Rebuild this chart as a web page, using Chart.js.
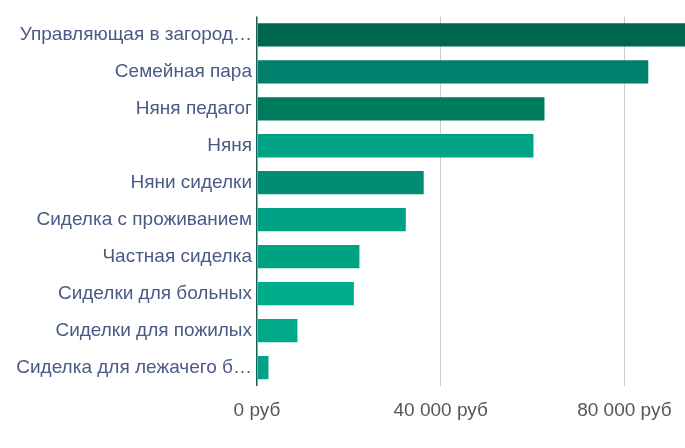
<!DOCTYPE html>
<html>
<head>
<meta charset="utf-8">
<script src="https://cdn.jsdelivr.net/npm/chart.js@4"></script>
<style>
html,body{margin:0;padding:0;background:#fff;}
#wrap{width:685px;height:448px;position:relative;}
</style>
</head>
<body>
<div id="wrap"><canvas id="c" width="685" height="448"></canvas></div>
<script>
const categories = [
  "Управляющая в загородный дом",
  "Семейная пара",
  "Няня педагог",
  "Няня",
  "Няни сиделки",
  "Сиделка с проживанием",
  "Частная сиделка",
  "Сиделки для больных",
  "Сиделки для пожилых",
  "Сиделка для лежачего больного"
];
const salaries = [93200, 85200, 62600, 60200, 36300, 32400, 22300, 21100, 8800, 2500];
const barColors = ["#00664f", "#007f6d", "#007a5e", "#00a383", "#008d73", "#00a085", "#00a381", "#00ad8b", "#00aa88", "#00a385"];
const xTickValues = [0, 40000, 80000];
const xMax = 93200;

const FONT = '"Liberation Sans", Arial, sans-serif';
const LABEL_SIZE = 19;
const measureCtx = document.createElement('canvas').getContext('2d');
measureCtx.font = LABEL_SIZE + 'px ' + FONT;
function truncate(s, maxW) {
  if (measureCtx.measureText(s).width <= maxW) return s;
  let t = s;
  while (t.length > 1 && measureCtx.measureText(t.trimEnd() + '…').width > maxW) t = t.slice(0, -1);
  return t.trimEnd() + '…';
}
function fmt(v) {
  return String(v).replace(/\B(?=(\d{3})+(?!\d))/g, ' ') + ' руб';
}

new Chart(document.getElementById('c'), {
  type: 'bar',
  data: {
    labels: categories,
    datasets: [{
      data: salaries,
      backgroundColor: barColors,
      borderWidth: 0,
      categoryPercentage: 1,
      barPercentage: 0.63
    }]
  },
  options: {
    indexAxis: 'y',
    responsive: false,
    animation: false,
    devicePixelRatio: 1,
    layout: { padding: { top: 12, right: 0, left: 0, bottom: 0 } },
    plugins: { legend: { display: false }, tooltip: { enabled: false } },
    scales: {
      x: {
        min: 0,
        max: xMax,
        afterBuildTicks: (scale) => {
          scale.ticks = xTickValues.map(v => ({ value: v }));
        },
        afterFit: (scale) => { scale.height = 62; },
        border: { display: false },
        grid: {
          drawTicks: false,
          color: (ctx) => (ctx.tick && ctx.tick.value === 0) ? '#1d5f52' : '#cccccc',
          lineWidth: (ctx) => (ctx.tick && ctx.tick.value === 0) ? 1.5 : 1
        },
        ticks: {
          padding: 13,
          color: '#555555',
          font: { family: FONT, size: 19 },
          maxRotation: 0,
          callback: (v) => fmt(v)
        }
      },
      y: {
        afterFit: (scale) => { scale.width = 257; },
        border: { display: false },
        grid: { display: false, drawTicks: false },
        ticks: {
          padding: 5,
          color: '#4a5a86',
          font: { family: FONT, size: LABEL_SIZE },
          autoSkip: false,
          callback: function (v, i) { return truncate(categories[i], 237); }
        }
      }
    }
  }
});
</script>
</body>
</html>
